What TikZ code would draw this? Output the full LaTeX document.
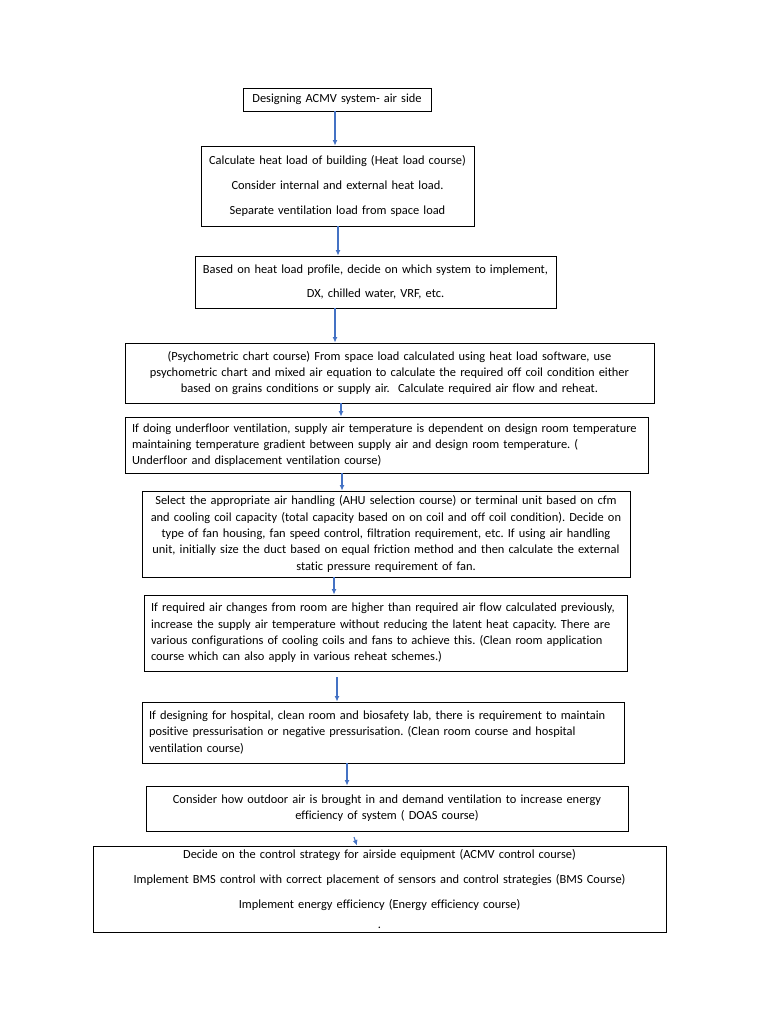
\documentclass[tikz,border=0pt]{standalone}
\usepackage{fontspec}
\setmainfont{Carlito}[Ligatures=NoCommon]
\usetikzlibrary{arrows.meta}
\definecolor{arrowblue}{HTML}{4472C4}
\frenchspacing
\tikzset{
  stepbox/.style={draw, line width=0.9pt, inner xsep=7pt, inner ysep=0pt, font=\fontsize{12.4}{16.3}\selectfont},
  flow/.style={draw=arrowblue, fill=arrowblue, line width=1.1pt, -{Latex[length=5.5pt,width=5pt]}}
}
\begin{document}
	\begin{tikzpicture}[x=1pt,y=-1pt]
		\useasboundingbox (0,0) rectangle (768,1024);
		% Nodes
		\node[stepbox, align=center, text width=174pt, minimum height=23pt] (b1) at (337,99.5) {Designing ACMV system- air side};
		\node[stepbox, align=center, text width=259pt, minimum height=80pt] (b2) at (337.5,186) {Calculate heat load of building (Heat load course)\\[8.5pt] Consider internal and external heat load.\\[8.5pt] Separate ventilation load from space load};
		\node[stepbox, align=center, text width=347pt, minimum height=52pt] (b3) at (375.5,282) {Based on heat load profile, decide on which system to implement,\\[7.5pt] DX, chilled water, VRF, etc.};
		\node[stepbox, align=center, text width=515pt, minimum height=60pt] (b4) at (389.5,373) {(Psychometric chart course) From space load calculated using heat load software, use\\ psychometric chart and mixed air equation to calculate the required off coil condition either\\ based on grains conditions or supply air.\ \ Calculate required air flow and reheat.};
		\node[stepbox, align=left, text width=509pt, minimum height=56pt] (b5) at (386.5,445) {If doing underfloor ventilation, supply air temperature is dependent on design room temperature\\ maintaining temperature gradient between supply air and design room temperature. (\\ Underfloor and displacement ventilation course)};
		\node[stepbox, align=center, text width=474pt, minimum height=86pt] (b6) at (386,534) {Select the appropriate air handling (AHU selection course) or terminal unit based on cfm\\ and cooling coil capacity (total capacity based on on coil and off coil condition). Decide on\\ type of fan housing, fan speed control, filtration requirement, etc. If using air handling\\ unit, initially size the duct based on equal friction method and then calculate the external\\ static pressure requirement of fan.};
		\node[stepbox, align=left, text width=469pt, minimum height=76pt] (b7) at (385.5,633) {If required air changes from room are higher than required air flow calculated previously,\\ increase the supply air temperature without reducing the latent heat capacity. There are\\ various configurations of cooling coils and fans to achieve this. (Clean room application\\ course which can also apply in various reheat schemes.)};
		\node[stepbox, align=left, text width=468pt, minimum height=61pt] (b8) at (383,732.5) {If designing for hospital, clean room and biosafety lab, there is requirement to maintain\\ positive pressurisation or negative pressurisation. (Clean room course and hospital\\ ventilation course)};
		\node[stepbox, align=center, text width=468pt, minimum height=45pt] (b9) at (387,808.5) {Consider how outdoor air is brought in and demand ventilation to increase energy\\ efficiency of system ( DOAS course)};
		\node[stepbox, align=center, text width=559pt, minimum height=86pt] (b10) at (379.5,889) {Decide on the control strategy for airside equipment (ACMV control course)\\[8.5pt] Implement BMS control with correct placement of sensors and control strategies (BMS Course)\\[8.5pt] Implement energy efficiency (Energy efficiency course)\\[3.5pt] .};

		% Edges
		\draw[flow] (b1.south -| 335,0) -- (b2.north -| 335,0);
		\draw[flow] (b2.south -| 338,0) -- (b3.north -| 338,0);
		\draw[flow] (b3.south -| 335,0) -- (b4.north -| 335,0);
		\draw[flow] (b4.south -| 341,0) -- (b5.north -| 341,0);
		\draw[flow] (b5.south -| 342,0) -- (b6.north -| 342,0);
		\draw[flow] (b6.south -| 334,0) -- (b7.north -| 334,0);
		\draw[flow, shorten <=6pt] (b7.south -| 337,0) -- (b8.north -| 337,0);
		\draw[flow] (b8.south -| 347,0) -- (b9.north -| 347,0);
		\draw[flow, shorten <=6pt] (b9.south -| 352,0) -- (b10.north -| 357,0);
	\end{tikzpicture}
\end{document}
